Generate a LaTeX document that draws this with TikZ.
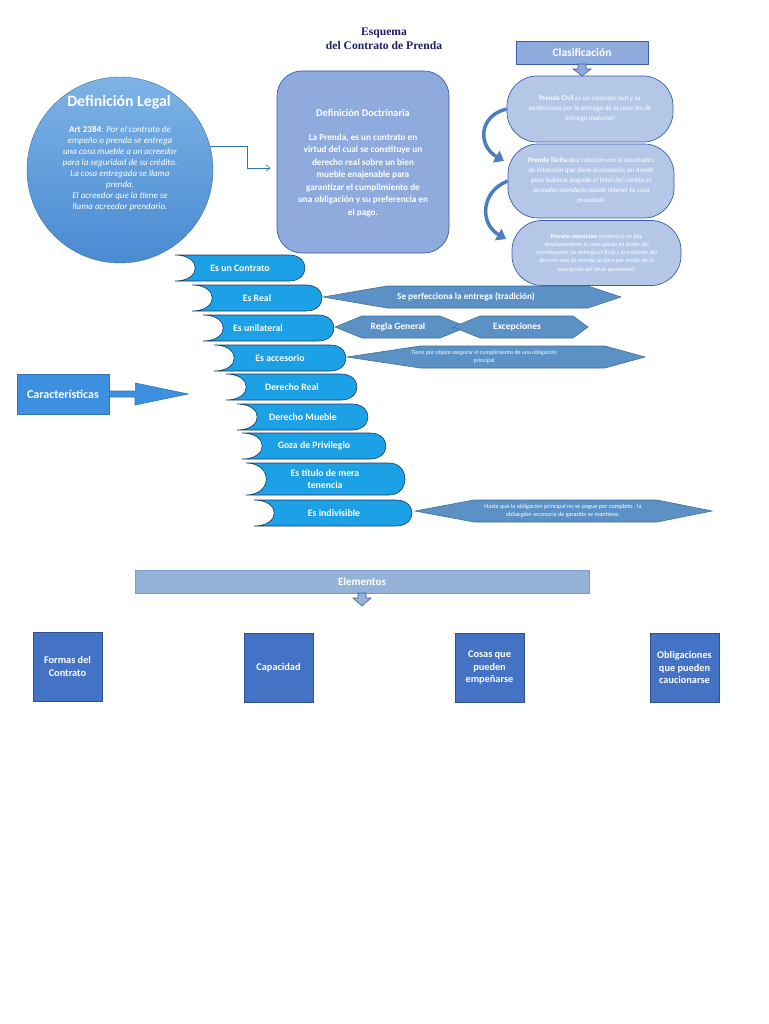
\documentclass[tikz,border=0pt]{standalone}
\usepackage{fontspec}
\setmainfont{Carlito}
\newfontfamily\titlefont{Liberation Serif}
\usetikzlibrary{arrows.meta,shapes.misc,calc}
\definecolor{navy}{HTML}{1F1F66}
\definecolor{circtop}{HTML}{7DB3E6}
\definecolor{circbot}{HTML}{4A8AD2}
\definecolor{docfill}{HTML}{8FAADC}
\definecolor{docbord}{HTML}{3A5DAE}
\definecolor{stfill}{HTML}{B4C7E7}
\definecolor{pillfill}{HTML}{1CA0E6}
\definecolor{pillbord}{HTML}{203864}
\definecolor{hexfill}{HTML}{5B91C5}
\definecolor{hexbord}{HTML}{41719C}
\definecolor{carfill}{HTML}{3D8FE0}
\definecolor{carbord}{HTML}{2E75B6}
\definecolor{elfill}{HTML}{95B3D9}
\definecolor{elbord}{HTML}{7A9CC8}
\definecolor{sqfill}{HTML}{4472C4}
\definecolor{sqbord}{HTML}{2F528F}
\definecolor{arrblue}{HTML}{4A7EC0}
\newcommand\mypill[7]{%
  \draw[pillst] (#2,#4) -- ({#3-16},#4) .. controls ({#3+5.3},#4) and ({#3+5.3},#5) .. ({#3-16},#5) -- (#2,#5) .. controls ({#2+27},#5) and ({#2+27},#4) .. cycle;
  \node[pilltxt] (#1) at (#6,{(#4+#5)/2}) {#7};}
\newcommand\myhex[9]{%
  \draw[hexst] (#2,{(#6+#7)/2}) -- (#3,#6) -- (#4,#6) -- (#5,{(#6+#7)/2}) -- (#4,#7) -- (#3,#7) -- cycle;
  \node[hextxt,#9] (#1) at (#8,{(#6+#7)/2}) {};}
\begin{document}
\begin{tikzpicture}[x=1pt,y=-1pt,
  pillst/.style={fill=pillfill,draw=pillbord,line width=0.6pt},
  pilltxt/.style={text=white,font=\bfseries\fontsize{9.8}{12}\selectfont,align=center,inner sep=0pt},
  hexst/.style={fill=hexfill,draw=hexbord,line width=0.6pt},
  hextxt/.style={text=white,align=center,inner sep=0pt},
  stad/.style={draw=docbord,fill=stfill,line width=0.7pt,rounded corners=30pt,text=white,align=center,inner sep=0pt,font=\itshape\fontsize{7}{10}\selectfont},
  sq/.style={draw=sqbord,fill=sqfill,line width=0.6pt,minimum width=69pt,minimum height=69pt,inner sep=0pt,text=white,align=center,font=\bfseries\fontsize{10.3}{12.5}\selectfont},
  blockarr/.style={fill=docfill,draw=docbord,line width=0.6pt},
  carrow/.style={draw=arrblue,line width=3.5pt,-{Triangle[length=9pt,width=13pt]}},
  conn/.style={draw=carbord,line width=0.6pt,-{Straight Barb[length=4pt,width=6pt]}}
]
\useasboundingbox[fill=white] (0,0) rectangle (768,1024);

% Title
\node[text=navy,align=center,font=\titlefont\bfseries\fontsize{11.6}{14}\selectfont] (title) at (384,39) {Esquema\\del Contrato de Prenda};

% Definicion Legal
\node[circle,minimum size=186pt,top color=circtop,bottom color=circbot,draw=circbot!80!black,line width=0.4pt] (deflegal) at (120,170) {};
\node[text=white,font=\bfseries\fontsize{15.8}{18}\selectfont] (dltitle) at (119,102) {Definición Legal};
\node[text=white,align=center,font=\fontsize{9}{11}\selectfont] (dlbody) at (120,169) {\textbf{Art 2384}: \textit{Por el contrato de}\\\textit{empeño o prenda se entrega}\\\textit{una cosa mueble a un acreedor}\\\textit{para la seguridad de su crédito.}\\\textit{La cosa entregada se llama}\\\textit{prenda.}\\\textit{El acreedor que la tiene se}\\\textit{llama acreedor prendario.}};

% Definicion Doctrinaria
\node[fill=docfill,draw=docbord,line width=0.7pt,rounded corners=25pt,minimum width=172pt,minimum height=182pt] (defdoc) at (363,162) {};
\node[text=white,font=\bfseries\fontsize{10.3}{12}\selectfont] (ddtitle) at (363,113) {Definición Doctrinaria};
\node[text=white,align=center,font=\bfseries\fontsize{9.2}{12.5}\selectfont] (ddbody) at (363,175.5) {La Prenda, es un contrato en\\virtud del cual se constituye un\\derecho real sobre un bien\\mueble enajenable para\\garantizar el cumplimiento de\\una obligación y su preferencia en\\el pago.};
\draw[conn] (deflegal.15) -- ++(37,0) |- ([xshift=-6pt,yshift=-6pt]defdoc.west);

% Clasificacion
\node[fill=docfill,draw=docbord,line width=0.7pt,minimum width=132pt,minimum height=23pt,inner sep=0pt,text=white,font=\bfseries\fontsize{11.5}{13}\selectfont] (clasif) at (582,52.5) {Clasificación};
\draw[blockarr] (578,64) -- (586,64) -- (586,69) -- (591,69) -- (582,76) -- (573,69) -- (578,69) -- cycle;

\node[stad,minimum width=166pt,minimum height=66pt] (civil) at (590,109) {\textbf{\upshape Prenda Civil} es un contrato real y se\\perfecciona por la entrega de la cosa (es de\\entrega material)};
\node[stad,minimum width=166pt,minimum height=74pt] (tacita) at (591,181) {\textbf{\upshape Prenda Tácita} dice relación con la facultades\\de retención que tiene el acreedor, en donde\\pese haberse pagado el total del crédito el\\acreedor prendario puede retener la cosa\\prendada};
\node[stad,minimum width=169pt,minimum height=65pt,font=\itshape\fontsize{6}{8.2}\selectfont] (especial) at (596.5,253) {\textbf{\upshape Prendas especiales} (comercio) no hay\\desplazamiento la cosa queda en poder del\\constituyente (la entrega es ficta y la tradición del\\derecho real de prenda se hace por medio de la\\inscripción del título pertinente)};
\draw[carrow] (civil.west) .. controls (478,116) and (478,146) .. (504,161);
\draw[carrow] (tacita.west) .. controls (480,192) and (480,224) .. (506,239);

% Caracteristicas
\node[fill=carfill,draw=carbord,line width=0.6pt,minimum width=92pt,minimum height=40pt,inner sep=0pt,text=white,font=\bfseries\fontsize{12}{14}\selectfont] (carac) at (63,394) {Características};
\draw[fill=carfill,draw=carbord,line width=0.6pt] (carac.east) ++(0,-3) -- ++(26,0) -- ++(0,-8) -- (188,394) -- (135,405) -- ++(0,-8) -- ([yshift=-3pt]carac.east) -- cycle;

% Pills
\mypill{p1}{175}{305}{255}{281}{240}{Es un Contrato}
\mypill{p2}{192}{322}{285}{311}{257}{Es Real}
\mypill{p3}{203}{334}{315}{341}{258}{Es unilateral}
\mypill{p4}{214}{346}{345}{371}{280}{Es accesorio}
\mypill{p5}{226}{357}{374}{400}{292}{Derecho Real}
\mypill{p6}{237}{368}{404}{430}{303}{Derecho Mueble}
\mypill{p7}{242}{386}{433}{459}{314}{Goza de Privilegio}
\mypill{p8}{246}{405}{463}{495}{325}{Es título de mera\\tenencia}
\mypill{p9}{254}{412}{500}{526}{334}{Es indivisible}

% Hexagons
\myhex{hsep}{323}{387}{588}{621}{286}{308}{466}{}
\node[hextxt,font=\bfseries\fontsize{9.2}{10}\selectfont] (tsep) at (hsep) {Se perfecciona la entrega (tradición)};
\myhex{hreg}{335}{362}{440}{467}{316}{338}{398}{}
\node[hextxt,font=\bfseries\fontsize{9.5}{10}\selectfont] (treg) at (hreg) {Regla General};
\myhex{hexc}{453}{480}{573}{588}{316}{338}{517}{}
\node[hextxt,font=\bfseries\fontsize{9.5}{10}\selectfont] (texc) at (hexc) {Excepciones};
\myhex{htie}{347}{420}{605}{645}{346}{368}{484}{}
\node[hextxt,font=\fontsize{5.9}{7.5}\selectfont] (ttie) at (htie) {Tiene por objeto asegurar el cumplimiento de una obligación\\principal};
\myhex{hhas}{415}{474}{657}{712}{500}{522}{563}{}
\node[hextxt,font=\fontsize{6.2}{8}\selectfont] (thas) at (hhas) {Hasta que la obligación principal no se pague por completo , la\\obliacgión accesoria de garantía se mantiene.};

% Elementos
\node[fill=elfill,draw=elbord,line width=0.6pt,minimum width=454pt,minimum height=23pt,inner sep=0pt,text=white,font=\bfseries\fontsize{11}{13}\selectfont] (elem) at (362,581.5) {Elementos};
\draw[fill=elfill,draw=docbord,line width=0.6pt] (358,593) -- (366,593) -- (366,598) -- (371,598) -- (362,606) -- (353,598) -- (358,598) -- cycle;

\node[sq] (formas) at (67.5,666.5) {Formas del\\Contrato};
\node[sq] (capac) at (278.5,667.5) {Capacidad};
\node[sq] (cosas) at (489.5,667.5) {Cosas que\\pueden\\empeñarse};
\node[sq] (oblig) at (684.5,667.5) {Obligaciones\\que pueden\\caucionarse};
\end{tikzpicture}
\end{document}
